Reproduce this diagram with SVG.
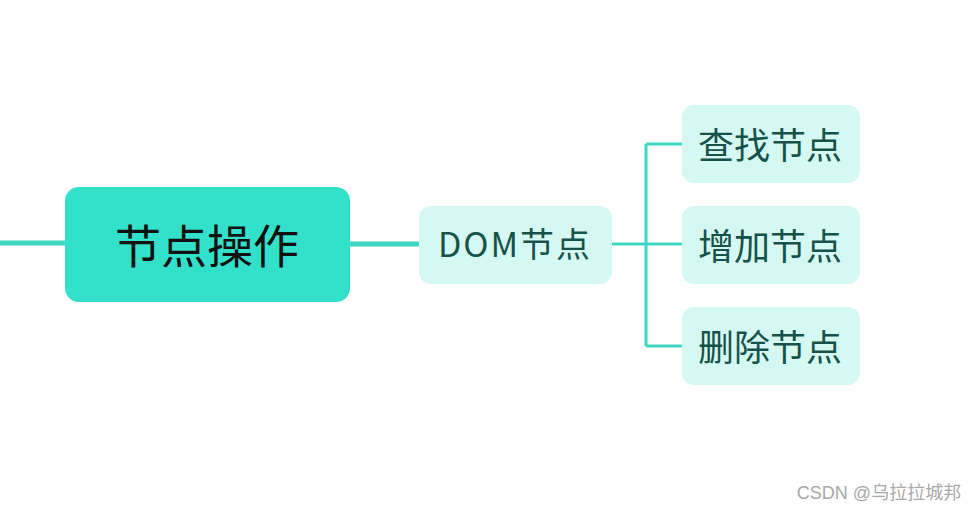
<svg xmlns="http://www.w3.org/2000/svg" width="980" height="510" viewBox="0 0 980 510">
<style>
.line{fill:none;stroke:#3dd8c4;stroke-linecap:butt}
.sub{fill:#d6f8f3}
.t{font-family:"Noto Sans CJK SC","Noto Sans",sans-serif;text-anchor:middle}
.st{fill:#17524a;font-size:36px}
</style>
<rect width="980" height="510" fill="#ffffff"/>
<g id="connectors">
<line class="line" x1="0" y1="243" x2="66" y2="243" stroke-width="5"/>
<line class="line" x1="349" y1="244" x2="420" y2="244" stroke-width="5"/>
<path class="line" d="M612 244H683M646 144V346M646 144H683M646 346H683" stroke-width="3"/>
</g>
<g id="main">
<rect x="65" y="187" width="285" height="115" rx="14" fill="#33e0c9"/>
<text class="t" x="207" y="263" font-size="46" fill="#111">节点操作</text>
</g>
<g id="dom">
<rect class="sub" x="419" y="206" width="193" height="78" rx="12"/>
<text class="t" x="515" y="257" font-size="34" fill="#17524a" letter-spacing="2">DOM节点</text>
</g>
<g id="find">
<rect class="sub" x="682" y="105" width="178" height="78" rx="12"/>
<text class="t st" x="770" y="159">查找节点</text>
</g>
<g id="add">
<rect class="sub" x="682" y="206" width="178" height="78" rx="12"/>
<text class="t st" x="770" y="260">增加节点</text>
</g>
<g id="del">
<rect class="sub" x="682" y="307" width="178" height="78" rx="12"/>
<text class="t st" x="770" y="361">删除节点</text>
</g>
<text x="879" y="499" font-family="Liberation Sans,'Noto Sans CJK SC',sans-serif" font-size="18" fill="#a8a8a8" text-anchor="middle">CSDN @乌拉拉城邦</text>
</svg>
